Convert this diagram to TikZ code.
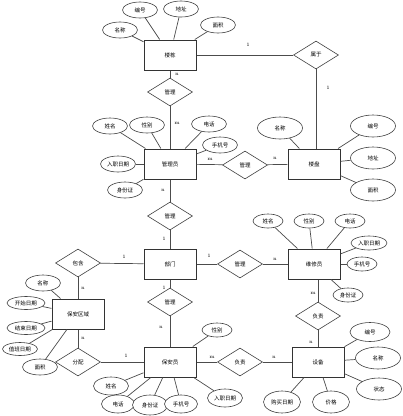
\documentclass[tikz,border=0pt]{standalone}
\usepackage{fontspec}
\newfontfamily\cjk{Noto Sans CJK SC}
\usetikzlibrary{shapes.geometric}
\begin{document}
\begin{tikzpicture}[x=1pt,y=-1pt,font=\cjk\fontsize{5.5}{6}\selectfont,
  ent/.style={draw=black!80, line width=1pt, fill=white, minimum width=52pt, minimum height=30pt, inner sep=0pt},
  rel/.style={diamond, draw=black!75, line width=0.6pt, fill=white, minimum width=45pt, minimum height=28pt, inner sep=0pt},
  attr/.style={ellipse, draw=black!75, line width=0.6pt, fill=white, minimum width=35pt, minimum height=16pt, inner sep=0pt},
  attrl/.style={attr, minimum width=45pt, minimum height=22pt},
  attrs/.style={attr, minimum width=30pt, minimum height=14pt},
  lnk/.style={draw=black!70, line width=0.7pt},
  card/.style={font=\fontsize{5}{5}\selectfont, inner sep=0pt}]
\useasboundingbox[fill=white] (0,0) rectangle (403,416);
% entities
\node[ent] (loudong) at (170,55) {楼栋};
\node[ent] (loupan) at (314,164) {楼盘};
\node[ent] (guanliyuan) at (170,164) {管理员};
\node[ent] (bumen) at (170,264) {部门};
\node[ent] (weixiuyuan) at (314,264) {维修员};
\node[ent] (quyu) at (78,314) {保安区域};
\node[ent] (baoanyuan) at (170,362) {保安员};
\node[ent] (shebei) at (318,362) {设备};
% relations
\node[rel] (shuyu) at (316,55) {属于};
\node[rel] (gl1) at (170,92) {管理};
\node[rel] (gl2) at (245,165) {管理};
\node[rel] (gl3) at (170,216) {管理};
\node[rel] (gl4) at (240,264) {管理};
\node[rel] (gl5) at (170,302) {管理};
\node[rel] (baohan) at (78,263) {包含};
\node[rel] (fz1) at (318,316) {负责};
\node[rel] (fz2) at (240,362) {负责};
\node[rel] (fenpei) at (78,362) {分配};
% attributes
\node[attr] (ld1) at (120,30) {名称};
\node[attr] (ld2) at (140,10) {编号};
\node[attr] (ld3) at (181,9) {地址};
\node[attr] (ld4) at (218,25) {面积};
\node[attrl] (lp1) at (280,128) {名称};
\node[attrl] (lp2) at (373,126) {编号};
\node[attrl] (lp3) at (373,158) {地址};
\node[attrl] (lp4) at (373,190) {面积};
\node[attr] (gy1) at (110,126) {姓名};
\node[attr] (gy2) at (147,125) {性别};
\node[attr] (gy3) at (209,124) {电话};
\node[attr] (gy4) at (220,145) {手机号};
\node[attr] (gy5) at (118,164) {入职日期};
\node[attr] (gy6) at (125,190) {身份证};
\node[attrs] (wx1) at (268,221) {姓名};
\node[attrs] (wx2) at (309,221) {性别};
\node[attrs] (wx3) at (350,221) {电话};
\node[attrs, minimum width=36pt] (wx4) at (369,243) {入职日期};
\node[attrs] (wx5) at (362,264) {手机号};
\node[attrs] (wx6) at (348,295) {身份证};
\node[attr] (qy1) at (43,283) {名称};
\node[attr, minimum height=13pt, minimum width=38pt] (qy2) at (26,303) {开始日期};
\node[attr, minimum height=13pt, minimum width=38pt] (qy3) at (26,328) {结束日期};
\node[attr, minimum height=13pt] (qy4) at (20,349) {值班日期};
\node[attr] (qy5) at (40,367) {面积};
\node[attrs] (by1) at (217,330) {性别};
\node[attr, minimum height=18pt] (by2) at (111,386) {姓名};
\node[attr, minimum height=18pt, minimum width=33pt] (by3) at (118,404) {电话};
\node[attr, minimum height=20pt] (by4) at (150,405) {身份证};
\node[attr, minimum height=18pt, minimum width=33pt] (by5) at (181,404) {手机号};
\node[attr, minimum height=18pt] (by6) at (225,398) {入职日期};
\node[attrl, minimum width=40pt, minimum height=19pt] (sb1) at (370,332) {编号};
\node[attrl] (sb2) at (378,358) {名称};
\node[attrl] (sb3) at (379,389) {状态};
\node[attrl, minimum width=37pt] (sb4) at (331,402) {价格};
\node[attrl, minimum width=37pt] (sb5) at (282,402) {购买日期};
% connectors
\draw[lnk] (loudong) -- (shuyu);
\draw[lnk] (shuyu) -- (loupan.north -| shuyu);
\draw[lnk] (loudong) -- (gl1);
\draw[lnk] (gl1) -- (guanliyuan);
\draw[lnk] (guanliyuan) -- (gl2);
\draw[lnk] (gl2) -- (loupan);
\draw[lnk] (guanliyuan) -- (gl3);
\draw[lnk] (gl3) -- (bumen);
\draw[lnk] (bumen) -- (gl4);
\draw[lnk] (gl4) -- (weixiuyuan);
\draw[lnk] (bumen) -- (gl5);
\draw[lnk] (gl5) -- (baoanyuan);
\draw[lnk] (bumen) -- (baohan);
\draw[lnk] (baohan) -- (quyu);
\draw[lnk] (quyu) -- (fenpei);
\draw[lnk] (fenpei) -- (baoanyuan);
\draw[lnk] (baoanyuan) -- (fz2);
\draw[lnk] (fz2) -- (shebei);
\draw[lnk] (weixiuyuan.south -| fz1) -- (fz1);
\draw[lnk] (fz1) -- (shebei.north -| fz1);
\foreach \a in {ld1,ld2,ld3,ld4} \draw[lnk] (\a) -- (loudong);
\foreach \a in {lp1,lp2,lp3,lp4} \draw[lnk] (\a) -- (loupan);
\foreach \a in {gy1,gy2,gy3,gy4,gy5,gy6} \draw[lnk] (\a) -- (guanliyuan);
\foreach \a in {wx1,wx2,wx3,wx4,wx5,wx6} \draw[lnk] (\a) -- (weixiuyuan);
\foreach \a in {qy1,qy2,qy3,qy4,qy5} \draw[lnk] (\a) -- (quyu);
\foreach \a in {by1,by2,by3,by4,by5,by6} \draw[lnk] (\a) -- (baoanyuan);
\foreach \a in {sb1,sb2,sb3,sb4,sb5} \draw[lnk] (\a) -- (shebei);
% cardinalities
\node[card] (c1) at (248,45) {1};
\node[card] (c2) at (328,88) {1};
\node[card] (c3) at (177,74) {n};
\node[card] (c4) at (177,123) {m};
\node[card] (c5) at (210,159) {m};
\node[card] (c6) at (275,158) {n};
\node[card] (c7) at (163,190) {n};
\node[card] (c8) at (164,239) {1};
\node[card] (c9) at (124,257) {1};
\node[card] (c10) at (209,256) {1};
\node[card] (c11) at (83,288) {n};
\node[card] (c12) at (164,288) {1};
\node[card] (c13) at (275,259) {n};
\node[card] (c14) at (313,293) {m};
\node[card] (c15) at (311,342) {n};
\node[card] (c16) at (83,338) {n};
\node[card] (c17) at (126,356) {1};
\node[card] (c18) at (161,327) {n};
\node[card] (c19) at (212,357) {m};
\node[card] (c20) at (274,357) {n};
\end{tikzpicture}
\end{document}
